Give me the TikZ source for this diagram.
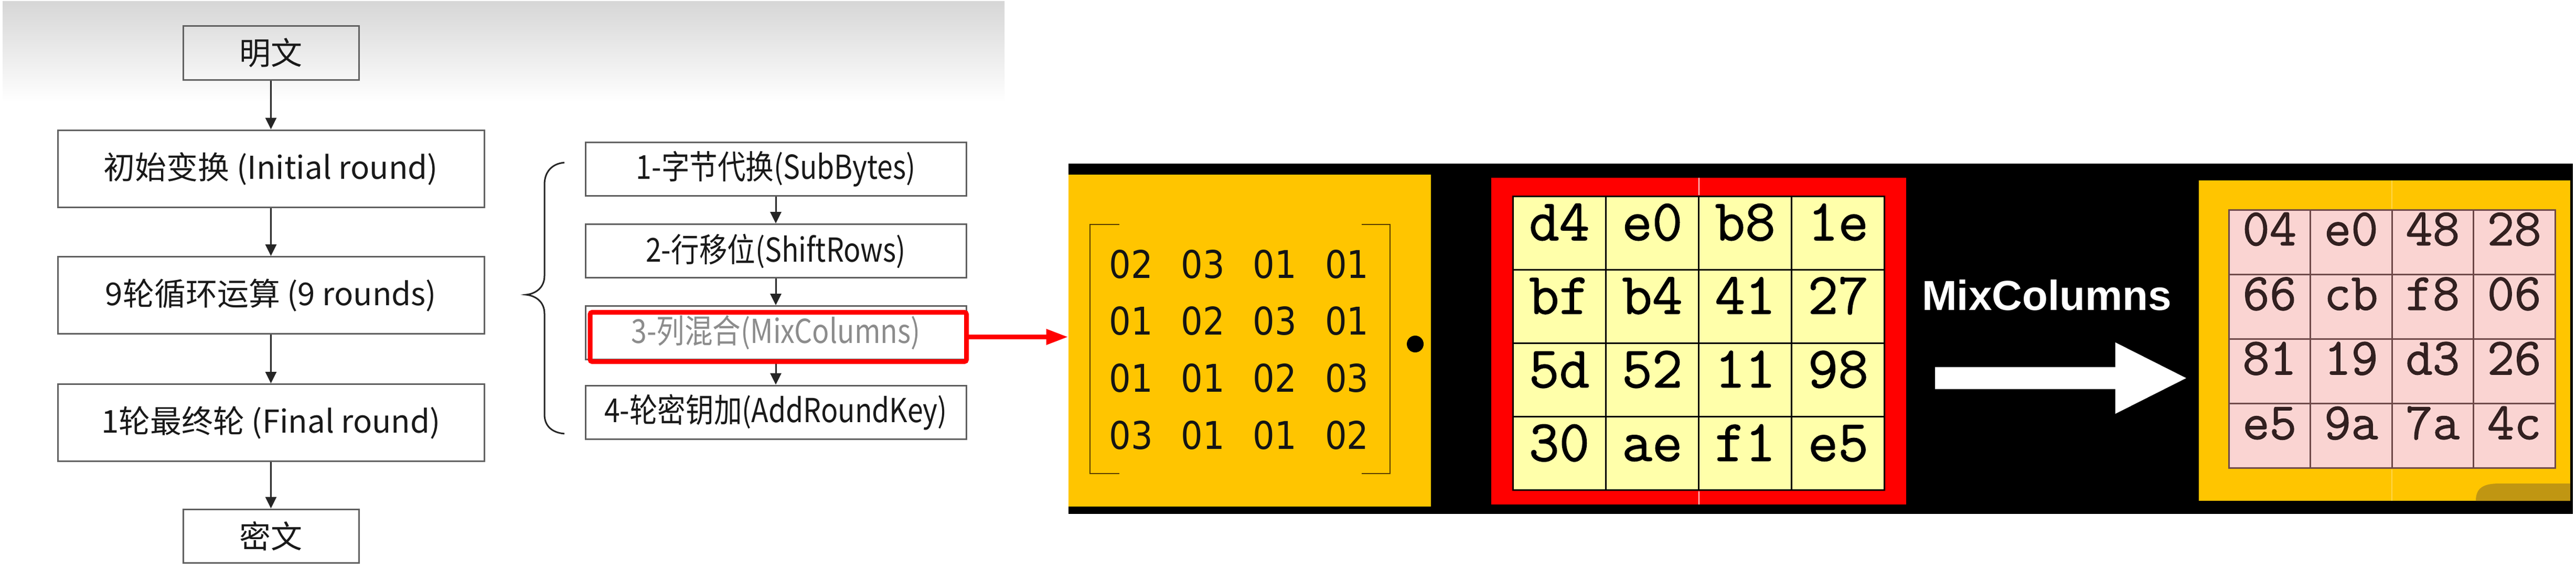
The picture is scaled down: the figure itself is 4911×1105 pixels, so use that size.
\documentclass[tikz,border=0pt]{standalone}
\usepackage{fontspec}
\newfontfamily\cjk{Noto Sans CJK SC}
\newfontfamily\cjkc[FakeStretch=0.85]{Noto Sans CJK SC}
\newfontfamily\mxfont[FakeStretch=0.9]{DejaVu Sans}
\newfontfamily\stmono[FakeBold=1.2]{Latin Modern Mono}
\newfontfamily\lsans{Liberation Sans}
\usetikzlibrary{arrows.meta}
\definecolor{boxgray}{RGB}{96,96,96}
\definecolor{gold}{RGB}{255,197,0}
\definecolor{darkgold}{RGB}{192,150,18}
\definecolor{lightyel}{RGB}{255,255,170}
\definecolor{pinkcell}{RGB}{250,212,210}
\definecolor{pinkline}{RGB}{110,72,72}
\definecolor{pinktext}{RGB}{50,32,32}
\definecolor{brk}{RGB}{90,60,0}
\begin{document}
\begin{tikzpicture}[x=0.5pt,y=-0.5pt,
  mbox/.style={draw=boxgray, line width=1.5pt, minimum width=406.5pt, minimum height=73.5pt, inner sep=0pt,
    font=\cjk\fontsize{30}{36}\selectfont, text=black!90},
  sbox/.style={draw=boxgray, line width=1.5pt, fill=white, minimum width=363pt, minimum height=51pt, inner sep=0pt,
    font=\cjkc\fontsize{31.5}{36}\selectfont, text=black!90},
  arr/.style={draw=black!85, line width=1.5pt, -{Triangle[width=10.5pt,length=11pt]}},
  mxnum/.style={anchor=base, inner sep=0pt, font=\mxfont\fontsize{36.4}{40}\selectfont, text=black!92},
  ycell/.style={draw=black, line width=1.5pt, fill=lightyel, minimum width=88.6pt, minimum height=70.1pt,
    inner sep=0pt, text height=0.611em, text depth=0pt, font=\stmono\fontsize{56}{60}\selectfont},
  pcell/.style={draw=pinkline, line width=1.5pt, fill=pinkcell, minimum width=77.75pt, minimum height=61.6pt,
    inner sep=0pt, text height=0.611em, text depth=0pt, text=pinktext, font=\stmono\fontsize{50}{54}\selectfont}
]
\useasboundingbox (0,0) rectangle (4911,1105);
\fill[white] (0,0) rectangle (4911,1105);
% header gradient
\shade[top color=black!16, bottom color=white] (5,2) rectangle (1915,195);

% left flow chart
\node[mbox, minimum width=167.5pt, minimum height=51.5pt] (pt) at (516.5,100.5) {明文};
\node[mbox] (init) at (516.5,321.5) {初始变换 (Initial round)};
\node[mbox] (nine) at (516.5,563) {9轮循环运算 (9 rounds)};
\node[mbox] (fin) at (516.5,806) {1轮最终轮 (Final round)};
\node[mbox, minimum width=167.5pt, minimum height=51pt] (ct) at (516.5,1022) {密文};
\draw[arr] (pt) -- (init);
\draw[arr] (init) -- (nine);
\draw[arr] (nine) -- (fin);
\draw[arr] (fin) -- (ct);

% brace
\draw[black!85, line width=1.5pt] (1076,310) .. controls (1052,312) and (1038,328) .. (1038,352)
  -- (1038,526) .. controls (1038,548) and (1022,560) .. (1003,562)
  .. controls (1022,564) and (1038,576) .. (1038,598)
  -- (1038,790) .. controls (1038,812) and (1052,825) .. (1076,827);

% sub steps
\node[sbox] (s1) at (1479,322) {1-字节代换(SubBytes)};
\node[sbox] (s2) at (1479,478.5) {2-行移位(ShiftRows)};
\node[sbox, text=black!45] (s3) at (1479,634.5) {3-列混合(MixColumns)};
\node[sbox] (s4) at (1479,786) {4-轮密钥加(AddRoundKey)};
\draw[arr] (s1) -- (s2);
\draw[arr] (s2) -- (s3);
\draw[arr] (s3) -- (s4);
\node[draw=red, line width=4.5pt, rounded corners=2pt, minimum width=358.75pt, minimum height=47pt, inner sep=0pt] (hl) at (1483.75,642.5) {};

% black panel
\fill[black] (2037,312) rectangle (4905,980);

% panel 1: constant matrix
\node[fill=gold, minimum width=345.5pt, minimum height=316.5pt, inner sep=0pt] (yp1) at (2382.5,649.5) {};
\draw[red, line width=4.5pt, -{Triangle[width=14pt,length=21pt]}] (hl.east) -- (hl.east -| yp1.west);
\draw[brk, line width=1.2pt] (2134,428) -- (2078,428) -- (2078,903) -- (2134,903);
\draw[brk, line width=1.2pt] (2596,428) -- (2650,428) -- (2650,903) -- (2596,903);
\foreach \row [count=\r] in {{02,03,01,01},{01,02,03,01},{01,01,02,03},{03,01,01,02}} {
  \foreach \v [count=\c] in \row {
    \node[mxnum] (m-\r-\c) at ({2156+(\c-1)*137.3},{530+(\r-1)*108.7}) {\v};
  }
}
\fill[black] (2698,656) circle[radius=8pt];

% panel 2: state
\node[fill=red, minimum width=395.5pt, minimum height=311.5pt, inner sep=0pt] (rf) at (3238.5,650.5) {};
\foreach \row [count=\r] in {{d4,e0,b8,1e},{bf,b4,41,27},{5d,52,11,98},{30,ae,f1,e5}} {
  \foreach \v [count=\c] in \row {
    \node[ycell] (y-\r-\c) at ({2972.6+(\c-1)*177.25},{444.1+(\r-1)*140.25}) {\raisebox{-4pt}{\v}};
  }
}
\draw[white!85!red, line width=1pt] (3239,339) -- (3239,372);
\draw[white!85!red, line width=1pt] (3239,937) -- (3239,962);

% MixColumns arrow
\node[anchor=base, inner sep=0pt, text=white, font=\lsans\bfseries\fontsize{40}{44}\selectfont] (lbl) at (3902,591) {MixColumns};
\node[fill=gold, minimum width=354pt, minimum height=305.5pt, inner sep=0pt] (yp3) at (4546,649.5) {};
\draw[white, line width=21pt, -{Triangle[width=62.5pt,length=69.5pt]}, shorten <=27.5pt, shorten >=10pt]
  (rf.east |- 0,721) -- (yp3.west |- 0,721);

% panel 3: result
\draw[gold!70!white, line width=1.2pt] (4560,344) -- (4560,398);
\draw[gold!70!white, line width=1.2pt] (4560,895) -- (4560,955);
\foreach \row [count=\r] in {{04,e0,48,28},{66,cb,f8,06},{81,19,d3,26},{e5,9a,7a,4c}} {
  \foreach \v [count=\c] in \row {
    \node[pcell] (p-\r-\c) at ({4326.75+(\c-1)*155.5},{461.6+(\r-1)*123.25}) {\v};
  }
}
\fill[darkgold] (4720,955) .. controls (4720,930) and (4735,922) .. (4765,922) -- (4900,922) -- (4900,955) -- cycle;
\end{tikzpicture}
\end{document}
